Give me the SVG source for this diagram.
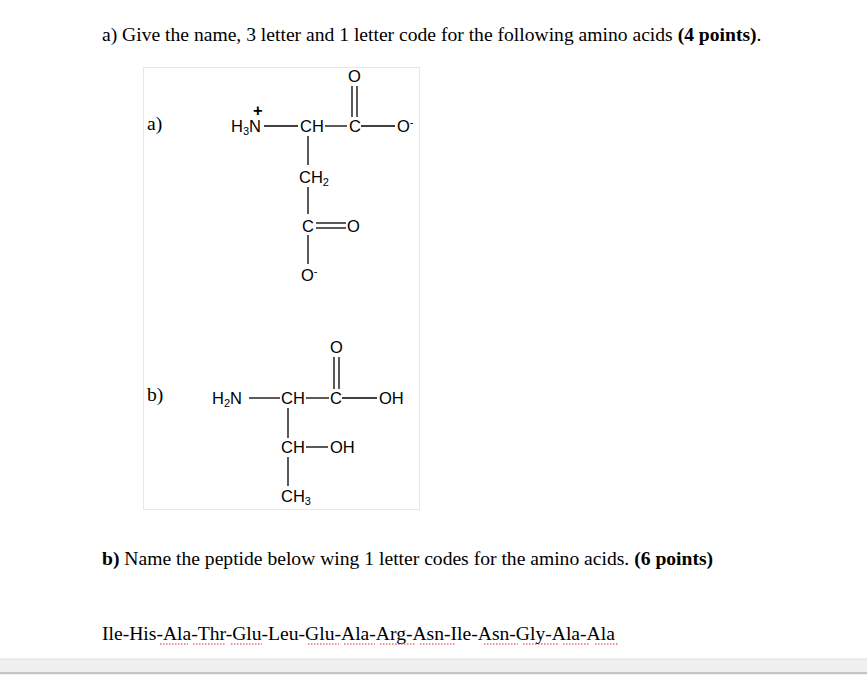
<svg xmlns="http://www.w3.org/2000/svg" width="867" height="675" viewBox="0 0 867 675">
<style>
.t{font-family:"Liberation Serif",serif;font-size:19.6px;fill:#000}
.c{font-family:"Liberation Sans",Arial,sans-serif;font-size:16.5px;fill:#000}
.s{font-size:11px}
.b{stroke:#000;stroke-width:1.3;fill:none}
.w{stroke:#d22;stroke-width:1;fill:none;stroke-dasharray:1.5 1.5}
</style>
<rect width="867" height="675" fill="#fff"/>
<rect x="0" y="659" width="867" height="16" fill="#f0f0f0"/>
<line x1="0" y1="659" x2="867" y2="659" stroke="#ddd"/>
<line x1="0" y1="673" x2="867" y2="673" stroke="#999"/>
<text class="t" x="102" y="41">a) Give the name, 3 letter and 1 letter code for the following amino acids <tspan font-weight="bold">(4 points)</tspan>.</text>
<rect x="143.5" y="67.5" width="276" height="442" fill="#fff" stroke="#e4e8ec"/>
<g id="acidA">
<text class="t" x="147" y="130">a)</text>
<text class="c" x="231" y="132">H<tspan class="s" dy="3">3</tspan><tspan dy="-3">N</tspan></text>
<text class="c" x="253" y="116" font-size="12" font-weight="bold">+</text>
<text class="c" x="300" y="132">CH</text>
<text class="c" x="349" y="132">C</text>
<text class="c" x="397" y="132">O<tspan class="s" dy="-6">-</tspan></text>
<text class="c" x="348" y="82">O</text>
<text class="c" x="299" y="183">CH<tspan class="s" dy="3">2</tspan></text>
<text class="c" x="302" y="232">C</text>
<text class="c" x="347" y="232">O</text>
<text class="c" x="301" y="281">O<tspan class="s" dy="-6">-</tspan></text>
</g>
<g id="acidB">
<text class="t" x="147" y="401">b)</text>
<text class="c" x="212" y="404">H<tspan class="s" dy="3">2</tspan><tspan dy="-3">N</tspan></text>
<text class="c" x="281" y="404">CH</text>
<text class="c" x="330" y="404">C</text>
<text class="c" x="379" y="404">OH</text>
<text class="c" x="330" y="353">O</text>
<text class="c" x="281" y="453">CH</text>
<text class="c" x="330" y="453">OH</text>
<text class="c" x="281" y="502">CH<tspan class="s" dy="3">3</tspan></text>
</g>
<g id="bonds" class="b">
<line x1="264" y1="126" x2="298" y2="126"/>
<line x1="325" y1="126" x2="347" y2="126"/>
<line x1="361" y1="126" x2="395" y2="126"/>
<line x1="352" y1="86" x2="352" y2="117"/>
<line x1="357" y1="86" x2="357" y2="117"/>
<line x1="308" y1="136" x2="308" y2="165"/>
<line x1="308" y1="187" x2="308" y2="214"/>
<line x1="316" y1="223" x2="346" y2="223"/>
<line x1="316" y1="228" x2="346" y2="228"/>
<line x1="308" y1="235" x2="308" y2="264"/>
<line x1="249" y1="398" x2="280" y2="398"/>
<line x1="306" y1="398" x2="329" y2="398"/>
<line x1="342" y1="398" x2="377" y2="398"/>
<line x1="334" y1="357" x2="334" y2="389"/>
<line x1="339" y1="357" x2="339" y2="389"/>
<line x1="288" y1="408" x2="288" y2="438"/>
<line x1="306" y1="447" x2="328" y2="447"/>
<line x1="288" y1="457" x2="288" y2="486"/>
</g>
<text class="t" x="102" y="565"><tspan font-weight="bold">b)</tspan> Name the peptide below wing 1 letter codes for the amino acids. <tspan font-weight="bold">(6 points)</tspan></text>
<text class="t" x="102" y="640">Ile-His-Ala-Thr-Glu-Leu-Glu-Ala-Arg-Asn-Ile-Asn-Gly-Ala-Ala</text>
<g class="w">
<line x1="160" y1="644" x2="188" y2="644"/>
<line x1="193" y1="644" x2="226" y2="644"/>
<line x1="231" y1="644" x2="262" y2="644"/>
<line x1="308" y1="644" x2="339" y2="644"/>
<line x1="344" y1="644" x2="375" y2="644"/>
<line x1="380" y1="644" x2="415" y2="644"/>
<line x1="420" y1="644" x2="455" y2="644"/>
<line x1="484" y1="644" x2="518" y2="644"/>
<line x1="523" y1="644" x2="558" y2="644"/>
<line x1="563" y1="644" x2="590" y2="644"/>
<line x1="595" y1="644" x2="618" y2="644"/>
</g>
</svg>
